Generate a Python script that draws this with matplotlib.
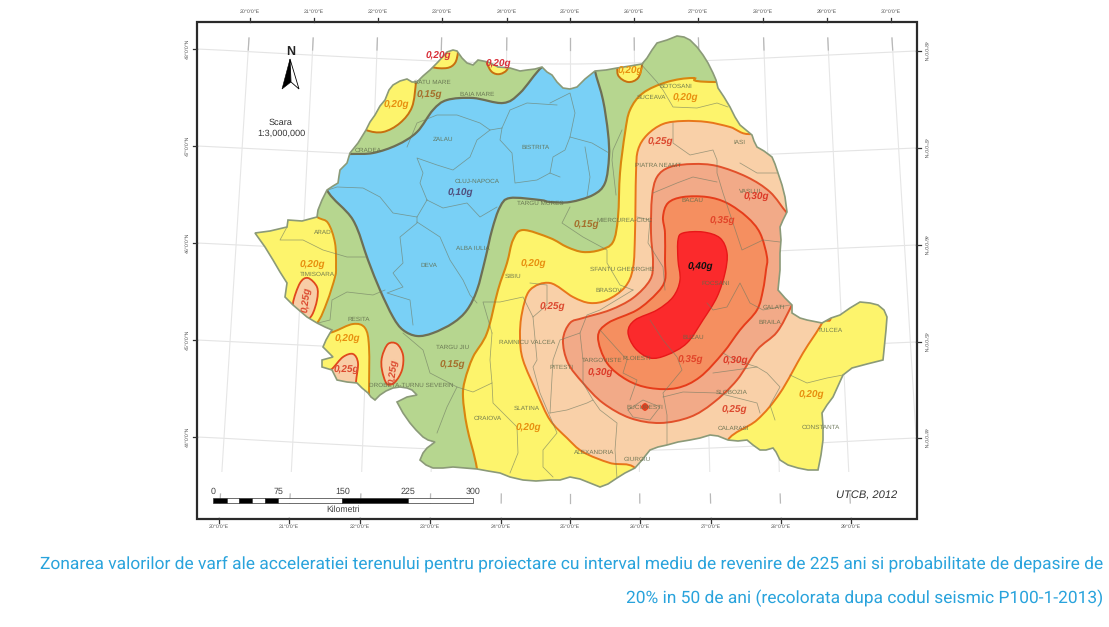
import matplotlib
matplotlib.use("Agg")
import matplotlib.pyplot as plt
from matplotlib.path import Path
from matplotlib.patches import PathPatch, Polygon, Rectangle

# everything is in picture pixels, the map is a scan so there is no real projection to use
country = [(350,153),(358,143),(366,130),(370,122),(375,115),(380,106),(385,100),(389,90),(393,85),(400,81),(407,79),(412,82),(417,82),
           (423,76),(430,70),(438,62),(447,52),(453,50),(457,51),(462,58),(467,63),(473,65),(478,60),(488,62),(498,67),(510,68),(520,71),
           (527,70),(535,69),(542,67),(547,72),(552,75),(557,82),(563,88),(570,89),(577,87),(585,79),(595,71),(606,70),(617,68),(630,66),(642,64),
           (647,58),(652,50),(657,43),(667,40),(677,36),(684,37),(690,40),(697,47),(703,55),(708,63),(713,73),(716,80),(718,88),(724,97),
           (730,107),(735,117),(740,125),(746,130),(752,135),(754,141),(757,147),(764,151),(772,157),(775,164),(778,173),(782,185),
           (785,197),(787,212),(783,220),(780,227),(781,240),(780,253),(780,270),(778,290),(785,298),(792,305),(792,313),(800,318),
           (807,320),(822,323),(831,318),(840,315),(850,308),(860,302),(870,303),(878,305),(884,310),(887,317),(886,330),(885,340),(884,350),
           (883,360),(867,364),(852,368),(843,375),(838,386),(833,397),(827,405),(822,413),(823,426),(823,440),(821,455),(818,470),(808,470),
           (798,468),(788,465),(780,460),(776,452),(773,448),(766,450),(760,450),(753,445),(747,440),(738,441),(728,440),(718,436),(710,435),(700,438),
           (690,440),(678,442),(667,445),(658,447),(650,450),(642,460),(635,468),(625,473),(617,478),(608,484),(600,487),(590,483),(580,479),(570,477),
           (560,480),(550,480),(536,481),(523,480),(510,477),(500,473),(488,471),(477,469),(465,468),(453,467),(443,468),(433,468),(426,465),
           (420,460),(423,453),(427,448),(435,442),(428,440),(423,437),(416,430),(410,423),(403,413),(397,402),(407,397),(417,395),(412,390),
           (407,388),(400,387),(393,388),(386,391),(380,395),(375,400),(371,397),(368,393),(362,388),(357,383),(347,382),(337,380),(332,370),(322,367),
           (322,360),(333,357),(328,352),(323,347),(326,340),(330,333),(332,330),(325,327),(317,323),(312,320),(307,317),(300,311),(293,305),(285,297),
           (287,283),(280,272),(273,260),(265,247),(255,233),(270,231),(287,227),(288,220),(302,221),(317,217),(318,210),(322,200),(327,190),(333,186),(338,183),
           (339,176),(340,170),(347,163)]

# zone limits, outside parts get cut by the country outline
zone_blue = [(320,155),(350,154),(373,153),(397,145),(417,132),(433,110),(447,100),(473,98),(503,103),(520,93),(542,67),(560,60),(595,60),(595,71),
             (603,100),(608,133),(609,157),(605,183),(593,195),(570,202),(550,202),(540,200),(510,198),(500,207),(492,230),(485,260),(477,290),
             (467,310),(453,323),(433,333),(417,336),(403,330),(393,317),(380,290),(368,260),(353,220),(327,190)]
zone_yellow_w = [(317,217),(328,223),(335,243),(336,267),(335,277),(327,302),(317,323),(300,335),(240,300),(240,215),(290,200)]
zone_peach_w = [(293,303),(300,283),(308,278),(317,287),(317,300),(312,315),(305,320),(296,312)]
zone_yellow_sw = [(333,332),(353,324),(365,328),(369,347),(369,393),(369,410),(310,410),(310,340)]
zone_peach_sw = [(333,368),(343,357),(353,354),(358,363),(356,382),(356,395),(330,395),(326,375)]
zone_peach_s = [(382,357),(388,344),(397,344),(403,355),(402,370),(395,382),(387,384),(382,370)]
zone_yellow_nw = [(366,130),(383,132),(400,123),(412,107),(416,82),(417,65),(360,65),(350,120)]
zone_yellow_n1 = [(432,67),(447,68),(455,63),(458,52),(458,40),(425,40),(425,60)]
zone_yellow_n2 = [(487,63),(492,72),(500,74),(508,68),(510,50),(485,50)]
zone_yellow_n3 = [(618,60),(618,75),(628,82),(638,78),(642,65),(642,50),(618,50)]
zone_yellow = [(900,80),(715,82),(693,78),(667,82),(643,93),(630,110),(625,133),(620,173),(618,217),(613,242),(600,250),(583,252),
               (567,247),(550,238),(523,230),(513,240),(507,263),(498,290),(487,333),(473,357),(465,380),(463,397),(467,427),(477,469),
               (482,520),(900,520)]
zone_peach = [(800,120),(752,134),(730,127),(707,122),(683,121),(663,124),(647,135),(638,150),(636,173),(635,233),(633,268),(625,287),(607,300),
              (590,303),(573,297),(550,283),(530,290),(522,313),(520,337),(523,360),(537,393),(550,420),(567,438),(583,452),(610,463),(635,468),
              (650,500),(728,470),(728,440),(757,420),(780,393),(803,353),(822,323),(830,300)]
zone_salmon = [(800,225),(787,213),(770,192),(747,177),(717,166),(693,164),(670,167),(657,177),(652,197),(651,233),(653,262),(650,280),(633,298),
               (610,310),(583,318),(570,323),(563,340),(568,363),(583,383),(603,403),(630,418),(660,423),(690,417),(713,403),(737,380),(757,350),
               (777,332),(792,305),(810,270)]
zone_orange = [(665,233),(663,217),(668,203),(683,197),(707,197),(727,203),(747,217),(760,233),(767,257),(766,270),(763,290),(757,310),(740,330),
               (723,353),(700,377),(677,388),(650,388),(627,380),(607,363),(598,337),(608,323),(637,310),(657,293),(665,280),(665,260)]
zone_red = [(678,240),(683,233),(703,232),(720,238),(727,253),(725,273),(717,297),(703,320),(687,343),(667,355),(650,358),(635,348),(628,332),
            (635,320),(657,310),(673,297),(680,280),(678,260)]
bucharest_spot = [(641,407),(645,403),(649,407),(645,411)]

county_lines = [
    [(407,147),(417,123),(437,115),(457,115),(480,123),(490,130),(502,128),(510,110),(527,103),(557,105)],
    [(490,130),(477,140),(470,157),(453,170),(437,165),(417,158),(423,173),(420,183),(427,200)],
    [(502,128),(500,140),(512,153),(515,183),(537,180),(550,173),(560,177)],
    [(328,190),(337,187),(363,188),(380,197),(393,213),(417,217),(427,200)],
    [(427,200),(443,208),(467,203),(480,217),(497,207)],
    [(417,217),(417,223),(400,237),(403,263),(393,273),(403,287),(387,293),(410,300),(413,325)],
    [(417,222),(440,237),(450,260),(463,280),(470,295),(477,303)],
    [(287,227),(280,240),(303,240),(323,250),(347,257),(367,257)],
    [(318,323),(330,320),(332,300),(347,292),(373,295),(385,290)],
    [(403,333),(423,350),(430,373),(457,387),(447,407),(437,433)],
    [(492,333),(483,302),(500,302),(523,297),(533,317),(537,360),(533,367),(540,393),(557,433),(543,450),(543,467),(553,477)],
    [(492,383),(493,403),(517,427),(518,453),(510,473)],
    [(457,387),(473,392),(492,383),(490,360),(492,333)],
    [(550,413),(567,410),(587,403),(593,400),(600,410),(617,423),(615,450),(617,478)],
    [(580,333),(583,360),(583,383),(593,400)],
    [(600,330),(627,360),(623,373),(637,380),(630,400)],
    [(628,410),(643,400),(660,407),(650,420),(633,417),(628,410)],
    [(663,397),(683,392),(718,393),(757,403),(760,413)],
    [(713,373),(757,367),(767,373),(780,387),(770,405),(775,420)],
    [(790,375),(807,383),(827,378),(843,375)],
    [(707,303),(713,310),(727,307),(740,283),(750,303),(763,310),(790,305)],
    [(650,320),(663,340),(677,357),(682,370),(663,393),(667,415),(667,445)],
    [(622,130),(613,150),(612,160),(616,195)],
    [(673,123),(673,143),(690,155),(713,150),(717,160),(717,173),(723,193),(742,250),(763,240),(780,242)],
    [(640,63),(657,82),(663,90),(673,107),(697,108),(717,103),(728,107)],
    [(740,163),(757,173),(777,173)],
    [(653,193),(677,183),(693,177),(717,182)],
    [(570,207),(562,223),(583,237),(607,250),(607,263),(620,285),(633,290)],
    [(550,103),(570,93),(575,113),(570,137),(592,143),(609,153)],
    [(570,137),(565,150),(553,157),(550,173)],
    [(585,147),(590,177),(587,197)],
    [(637,217),(650,220),(648,243),(663,267),(665,290)],
    [(633,290),(600,310),(587,315),(580,333),(560,340),(553,360),(550,413)],
    [(530,283),(547,285),(547,305),(533,317)],
    [(723,353),(735,360),(757,367)],
]

# graticule, curves read at left, middle and right of the frame
lat_lines = [[(197,49),(556,64),(916,51)],[(197,146),(556,160),(916,148)],[(197,243),(556,257),(916,245)],
             [(197,340),(556,354),(916,342)],[(197,437),(556,452),(916,438)]]
lat_labels = ["48°0'0\"N","47°0'0\"N","46°0'0\"N","45°0'0\"N","44°0'0\"N"]
lon_top = [250,314,378,442,507,570,634,698,763,827,891]
lon_bottom = [219,289,360,430,501,570,640,711,781,851,921]
lon_labels = ["20°0'0\"E","21°0'0\"E","22°0'0\"E","23°0'0\"E","24°0'0\"E","25°0'0\"E","26°0'0\"E","27°0'0\"E","28°0'0\"E","29°0'0\"E","30°0'0\"E"]

city_names = ["SATU MARE","BAIA MARE","ORADEA","ZALAU","BISTRITA","CLUJ-NAPOCA","TARGU MURES","ARAD","ALBA IULIA","DEVA","TIMISOARA","RESITA",
              "TARGU JIU","DROBETA-TURNU SEVERIN","SIBIU","RAMNICU VALCEA","SLATINA","CRAIOVA","PITESTI","TARGOVISTE","PLOIESTI","BUZAU","FOCSANI",
              "GALATI","BRAILA","TULCEA","SLOBOZIA","CALARASI","CONSTANTA","ALEXANDRIA","GIURGIU","BUCURESTI","BRASOV","SFANTU GHEORGHE","BACAU",
              "VASLUI","IASI","PIATRA NEAMT","MIERCUREA-CIUC","SUCEAVA","BOTOSANI"]
city_xy = [(432,82),(477,94),(368,150),(443,139),(536,147),(477,181),(540,203),(323,232),(473,248),(429,265),(317,274),(359,319),
           (453,347),(411,385),(513,276),(527,342),(527,408),(488,418),(562,367),(602,360),(637,358),(693,337),(716,283),
           (774,307),(770,322),(830,330),(732,392),(733,428),(821,427),(594,452),(637,459),(645,407),(609,290),(622,269),(692,200),
           (750,191),(739,142),(658,165),(624,220),(651,97),(676,86)]

zone_values = ["0,20g","0,20g","0,20g","0,15g","0,10g","0,20g","0,20g","0,25g","0,25g","0,20g","0,25g","0,25g","0,15g","0,20g",
               "0,20g","0,20g","0,25g","0,30g","0,35g","0,15g","0,40g","0,30g","0,35g","0,30g","0,25g","0,20g"]
zone_value_xy = [(438,56),(498,64),(396,105),(429,95),(460,193),(312,265),(533,264),(552,307),(307,300),(347,339),(346,370),(394,372),(452,365),(528,428),
                 (630,71),(685,98),(660,142),(756,197),(722,221),(586,225),(700,267),(600,373),(690,360),(735,361),(734,410),(811,395)]
zone_value_colors = ["#d8303a","#d8303a","#e8900f","#a5702c","#50507e","#e8900f","#e8900f","#dc4a30","#dc4a30","#e8900f","#dc4a30","#dc4a30","#a5702c","#e8900f",
                     "#e8900f","#e8900f","#dc4a30","#dc3a28","#e2452a","#a5702c","#111111","#dc3a28","#e2452a","#dc3a28","#dc4a30","#e8900f"]

scale_stops = [213,227,239,252,265,278,342,408,473]
scale_labels = ["0","75","150","225","300"]

caption = ["Zonarea valorilor de varf ale acceleratiei terenului pentru proiectare cu interval mediu de revenire de 225 ani si probabilitate de depasire de",
           "20% in 50 de ani (recolorata dupa codul seismic P100-1-2013)"]


def smooth(pts):
    # closed catmull-rom turned into bezier segments
    n = len(pts)
    verts = [pts[0]]
    codes = [Path.MOVETO]
    for i in range(n):
        p0, p1, p2, p3 = pts[i-1], pts[i], pts[(i+1) % n], pts[(i+2) % n]
        c1 = (p1[0] + (p2[0]-p0[0])/6, p1[1] + (p2[1]-p0[1])/6)
        c2 = (p2[0] - (p3[0]-p1[0])/6, p2[1] - (p3[1]-p1[1])/6)
        verts += [c1, c2, p2]
        codes += [Path.CURVE4]*3
    return Path(verts, codes)


def open_smooth(pts):
    verts = [pts[0]]
    codes = [Path.MOVETO]
    for i in range(len(pts)-1):
        p0 = pts[max(i-1, 0)]
        p1, p2 = pts[i], pts[i+1]
        p3 = pts[min(i+2, len(pts)-1)]
        verts += [(p1[0]+(p2[0]-p0[0])/6, p1[1]+(p2[1]-p0[1])/6), (p2[0]-(p3[0]-p1[0])/6, p2[1]-(p3[1]-p1[1])/6), p2]
        codes += [Path.CURVE4]*3
    return Path(verts, codes)


plt.rcParams["text.hinting"] = "no_hinting"
fig = plt.figure(figsize=(11.09, 6.27), dpi=100)
ax = fig.add_axes([0, 0, 1, 1])
ax.set_xlim(0, 1109)
ax.set_ylim(627, 0)
ax.axis("off")
plt.rcParams["font.family"] = ["Liberation Sans", "DejaVu Sans"]

# graticule
for line in lat_lines:
    ax.add_patch(PathPatch(open_smooth(line), fill=False, ec="#e4e4e4", lw=0.8, zorder=1))
for a, b in zip(lon_top, lon_bottom):
    slope = (b-a)/496
    y_end = 518 if b < 916 else 22+(916-a)/slope
    ax.plot([a+slope*16, a+slope*(y_end-22)], [38, y_end], color="#e6e6e6", lw=0.8, zorder=1)
    # darker dashes that survive in the scan
    ax.plot([a+slope*16, a+slope*28], [38, 50], color="#b8b8b8", lw=0.9, zorder=1.2)
    if b < 916:
        ax.plot([b-slope*24, b-slope*15], [494, 503], color="#b8b8b8", lw=0.9, zorder=1.7)

# the white box behind scale bar and UTCB hides the grid at the bottom
ax.add_patch(Rectangle((199, 472), 715, 45, fc="white", ec="none", zorder=1.5))

land = Polygon(country, closed=True, fc="#b6d68f", ec="none", zorder=2)
ax.add_patch(land)

zones = [
    (zone_blue, "#79d0f6", "#6d6f55", 1.6),
    (zone_yellow_w, "#fdf46c", "#d9860f", 1.4),
    (zone_peach_w, "#f8cda6", "#e0481c", 1.3),
    (zone_yellow_sw, "#fdf46c", "#d9860f", 1.4),
    (zone_peach_sw, "#f8cda6", "#e0481c", 1.3),
    (zone_peach_s, "#f8cda6", "#e0481c", 1.3),
    (zone_yellow_nw, "#fdf46c", "#c8700f", 1.4),
    (zone_yellow_n1, "#fdf46c", "#c8700f", 1.4),
    (zone_yellow_n2, "#fdf46c", "#c8700f", 1.4),
    (zone_yellow_n3, "#fdf46c", "#c8700f", 1.4),
    (zone_yellow, "#fdf46c", "#d9860f", 1.5),
    (zone_peach, "#f9d0a8", "#e8761a", 1.4),
    (zone_salmon, "#f2aa88", "#e2502a", 1.4),
    (zone_orange, "#f58f60", "#e63c1a", 1.4),
    (zone_red, "#fb2a2c", "#e81818", 1.0),
]
for pts, fc, ec, lw in zones:
    p = PathPatch(smooth(pts), fc=fc, ec=ec, lw=lw, zorder=3)
    ax.add_patch(p)
    p.set_clip_path(land)
spot = PathPatch(smooth(bucharest_spot), fc="#e8401f", ec="none", zorder=3.5)
ax.add_patch(spot)

for line in county_lines:
    xs, ys = zip(*line)
    l, = ax.plot(xs, ys, color="#6f7a62", lw=0.55, alpha=0.65, zorder=4)
    l.set_clip_path(land)

# country edge on top of the zones
ax.add_patch(Polygon(country, closed=True, fill=False, ec="#8b9a78", lw=1.2, zorder=5))

for name, (x, y) in zip(city_names, city_xy):
    ax.text(x, y, name, fontsize=4.6, color="#5e6a4a", alpha=0.85, ha="center", va="center", zorder=6)
for val, (x, y), col in zip(zone_values, zone_value_xy, zone_value_colors):
    rot = 84 if (x, y) in [(307, 300), (394, 372)] else 0
    ax.text(x, y, val, fontsize=7.2, style="italic", weight="bold", color=col,
            ha="center", va="center", rotation=rot, zorder=7)

# frame and ticks
ax.add_patch(Rectangle((197, 22), 719.5, 496.5, fill=False, ec="#2a2a2a", lw=1.6, zorder=8))
for x, lab in zip(lon_top, lon_labels):
    ax.plot([x, x], [18, 22], color="#333333", lw=0.9, zorder=8)
    ax.text(x, 12, lab, fontsize=3.8, color="#555555", ha="center", va="center")
for x, lab in zip(lon_bottom[:-1], lon_labels[:-1]):
    ax.plot([x, x], [518, 523], color="#333333", lw=0.9, zorder=8)
    ax.text(x, 527, lab, fontsize=3.8, color="#555555", ha="center", va="center")
for line, lab in zip(lat_lines, lat_labels):
    ax.plot([193, 197], [line[0][1], line[0][1]], color="#333333", lw=0.9, zorder=8)
    ax.plot([916, 921], [line[2][1], line[2][1]], color="#333333", lw=0.9, zorder=8)
    ax.text(188, line[0][1], lab, fontsize=3.8, color="#555555", rotation=90, ha="center", va="center")
    ax.text(925, line[2][1], lab, fontsize=3.8, color="#555555", rotation=270, ha="center", va="center")

# north arrow
ax.text(291, 52, "N", fontsize=9, color="#222222", weight="bold", ha="center", va="center")
ax.add_patch(Polygon([(290,59),(282,89),(291,82)], fc="black", ec="black", lw=0.4, zorder=6))
ax.add_patch(Polygon([(290,59),(299,89),(291,82)], fc="white", ec="black", lw=0.6, zorder=6))
ax.text(281, 123, "Scara", fontsize=6.6, color="#333333", ha="center", va="center")
ax.text(281, 134, "1:3,000,000", fontsize=6.6, color="#333333", ha="center", va="center")

# scale bar
for i, (a, b) in enumerate(zip(scale_stops[:-1], scale_stops[1:])):
    c = "black" if i in (0, 2, 4, 6) else "white"
    ax.add_patch(Rectangle((a, 498), b-a, 5, fc=c, ec="#333333", lw=0.5, zorder=6))
for x, lab in zip([213, 278, 343, 408, 473], scale_labels):
    ax.text(x, 492, lab, fontsize=6.4, color="#444444", ha="center", va="center")
ax.text(343, 510, "Kilometri", fontsize=6.2, color="#444444", ha="center", va="center")
ax.text(867, 496, "UTCB, 2012", fontsize=8, style="italic", color="#333333", ha="center", va="center")

# caption
ax.text(1103, 565, caption[0], fontsize=12.5, family="Roboto", color="#29a3dc", ha="right", va="center")
ax.text(1103, 598, caption[1], fontsize=12.5, family="Roboto", color="#29a3dc", ha="right", va="center")

fig.savefig("out.png", dpi=100)
